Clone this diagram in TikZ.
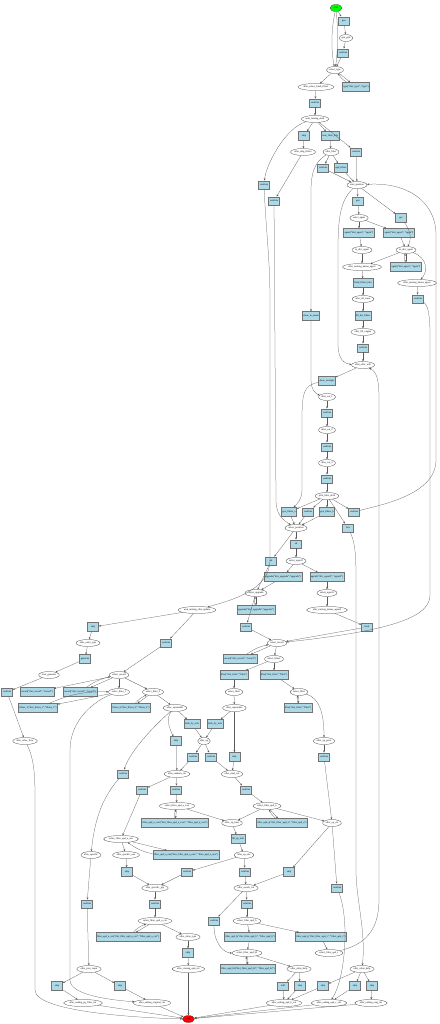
\documentclass[tikz,border=0pt]{standalone}
\usepackage{fontspec}
\setmainfont{Liberation Serif}
\usepackage{tikz}
\usetikzlibrary{arrows.meta,shapes.geometric}
\definecolor{lblue}{HTML}{ADD8E6}
\tikzset{
  st/.style  ={ellipse,draw=black!80,line width=0.25pt,inner xsep=0.3pt,inner ysep=0.2pt,
               minimum height=7pt,minimum width=12pt,font=\fontsize{2.5}{3}\selectfont},
  act/.style ={rectangle,draw=black!55,line width=0.5pt,fill=lblue,inner xsep=1pt,
               minimum height=7.5pt,minimum width=11pt,font=\fontsize{2.5}{3}\selectfont},
  e/.style   ={-{Stealth[length=2.2pt,width=1.8pt]},line width=0.25pt,draw=black!65},
}

\begin{document}
\begin{tikzpicture}[x=1pt,y=-1pt]
  \useasboundingbox (0,0) rectangle (439,1024);
  % top
  \node[st,fill=green] (start) at (336,8) {start};
  \node[act] (genA) at (344,21) {gen};
  \node[st] (genGrid) at (346,38) {gen\_grid};
  \node[act] (cfA) at (343,53) {confirm};
  \node[st] (selType) at (335,70) {select\_type};
  \node[st] (afterSel) at (316,87) {after\_select\_fresh\_filters};
  \node[act] (typeBox) at (356,87) {type("dict\_type", "type")};
  \node[act] (cfB) at (315,103) {confirm};
  \node[st] (waitDeck) at (315,119) {wait\_turning\_deck};
  \node[act] (skipA) at (304,136) {skip};
  \node[act] (resetF) at (330,136) {reset\_filter\_info};
  \node[act] (cfC) at (356,152) {confirm};
  \node[st] (afSkip) at (303,152) {after\_skip\_filters};
  \node[st] (afFil) at (331,152) {after\_filter};
  \node[act] (cfD) at (323,168) {confirm};
  \node[act] (updF) at (341,168) {upd\_filters};
  \node[act] (cfE) at (264,185) {confirm};
  \node[act] (cfF) at (274,201) {confirm};
  \node[st] (startPos) at (357,185) {start\_position};
  \node[act] (genB) at (358,201) {gen};
  \node[act] (getA) at (401,218) {get};
  \node[st] (selAgent) at (359,218) {select\_agent};
  \node[act] (agentA) at (359,233) {agent("dict\_agent", "agent")};
  \node[act] (agentB) at (399,233) {agent("dict\_agent", "agent")};
  \node[st] (toAgentA) at (362,250) {to\_dict\_agent};
  \node[st] (toAgentB) at (406,250) {to\_dict\_agent};
  \node[st] (afTurn) at (362,267) {after\_turning\_minus\_agent};
  \node[act] (agentC) at (406,267) {agent("dict\_agent", "agent")};
  \node[st] (afTurn2) at (417,283) {after\_turning\_minus\_agent};
  \node[act] (fixedF) at (363,283) {fixed\_filters\_info};
  \node[act] (cfG) at (418,299) {confirm};
  \node[st] (afAll) at (363,299) {after\_all\_cases};
  \node[act] (fillF) at (363,316) {fill\_the\_filters};
  \node[act] (showMode) at (311,316) {show\_in\_mode};
  \node[st] (afFill) at (363,332) {after\_fill\_engine};
  \node[act] (cfH) at (363,348) {confirm};
  \node[st] (afAfter) at (363,365) {after\_after\_info};
  \node[act] (showEx) at (327,381) {show\_example};
  \node[st] (afCut1) at (327,397) {after\_cut\_1};
  \node[act] (cf1) at (327,413) {confirm};
  \node[st] (afCut2) at (327,430) {after\_cut\_2};
  \node[act] (cf2) at (327,447) {confirm};
  \node[st] (afCut3) at (327,463) {after\_cut\_3};
  \node[act] (cf3) at (327,479) {confirm};
  \node[st] (pickDeck) at (327,496) {pick\_filter\_deck};
  \node[act] (gfA) at (289,512) {gen\_filters\_a};
  \node[act] (cfI) at (308,512) {confirm};
  \node[act] (gfB) at (327,512) {gen\_filters\_b};
  \node[act] (cfJ) at (354,512) {confirm};
  \node[st] (selPos) at (296,528) {select\_position};
  \node[act] (freeA) at (348,528) {free};
  \node[act] (okA) at (296,544) {ok};
  \node[act] (okB) at (271,561) {ok};
  \node[st] (selAg2) at (296,561) {select\_agent2};
  \node[act] (ag2A) at (283,577) {upgrade("dict\_upgrade","upgrade")};
  \node[act] (ag2B) at (327,577) {agent2("dict\_agent2", "agent2")};
  \node[st] (selAg2b) at (256,593) {select\_upgrade};
  \node[st] (selAg3) at (327,593) {select\_agent3};
  \node[act] (ag2C) at (256,610) {upgrade("dict\_upgrade","upgrade")};
  \node[st] (afTurn3) at (327,610) {after\_turning\_minus\_agent2};
  \node[act] (cfK) at (246,627) {confirm};
  \node[act] (backA) at (367,627) {back};
  \node[st] (selRec) at (277,643) {select\_record};
  \node[act] (recA) at (240,659) {record("dict\_record", "record")};
  \node[st] (selFil) at (274,659) {select\_filters};
  \node[act] (filA) at (234,675) {filter("dict\_filter","filter")};
  \node[act] (filB) at (274,675) {filter("dict\_filter","filter")};
  \node[st] (selFA) at (234,692) {select\_filter};
  \node[st] (selFB) at (299,692) {select\_filter};
  \node[st] (afRepA) at (234.4,708) {after\_repeatable};
  \node[act] (filBox) at (298,708) {filter("dict\_filter","filter")};
  % left part
  \node[st] (wtChar) at (197,610) {wait\_turning\_char\_update};
  \node[act] (skipB) at (93,627) {skip};
  \node[st] (afEnter) at (88,643) {after\_enter\_type};
  \node[act] (cfL) at (166,643) {confirm};
  \node[act] (genC) at (85,659) {generate};
  \node[st] (startGen) at (49,675) {start\_generate};
  \node[st] (selRec2) at (119,675) {select\_record};
  \node[act] (cfM) at (7,692) {confirm};
  \node[act] (recB) at (37,692) {record("dict\_record", "record")};
  \node[act] (recC) at (80,692) {record("dict\_record", "record")};
  \node[st] (selF1) at (119,692) {select\_filter\_1};
  \node[st] (selF1b) at (153,692) {select\_filter\_2};
  \node[act] (f1A) at (38,708) {filters\_1("dict\_filters\_1","filters\_1")};
  \node[act] (f1B) at (131,708) {filters\_2("dict\_filters\_2","filters\_2")};
  \node[st] (afRep1) at (175,708) {after\_repeatable};
  \node[act] (fetchA) at (192,724) {fetch\_by\_info};
  \node[act] (fetchB) at (215,724) {fetch\_by\_info};
  \node[st] (afOther) at (25,741) {after\_other\_flow};
  \node[act] (skipC) at (176,741) {skip};
  \node[st] (afOp1) at (204,741) {after\_op};
  \node[act] (cfN) at (193,757) {confirm};
  \node[act] (cfO) at (211,757) {confirm};
  \node[act] (skipD) at (234.4,757) {skip};
  \node[st] (afOpP) at (324,741) {after\_op\_price};
  \node[act] (cfS) at (324,757) {confirm};
  \node[act] (cfP) at (123,774) {confirm};
  \node[st] (afRand) at (177,774) {after\_random\_cnt};
  \node[st] (afRand2) at (232,774) {after\_rand\_cnt};
  \node[act] (cfQ) at (142,790) {confirm};
  \node[act] (cfR) at (176,790) {confirm};
  \node[act] (cfT) at (246,790) {confirm};
  \node[st] (selFUAC) at (177,806) {select\_filter\_upd\_a\_cost};
  \node[st] (selFUA) at (267,806) {select\_filter\_upd\_a};
  \node[act] (fuacBox) at (175,823) {filter\_upd\_a\_cost("dict\_filter\_upd\_a\_cost", "filter\_upd\_a\_cost")};
  \node[st] (afOpB) at (232,823) {after\_op\_base};
  \node[act] (fuaBox) at (282,823) {filter\_upd\_a("dict\_filter\_upd\_a", "filter\_upd\_a")};
  \node[st] (afOpC) at (332,823) {after\_op\_cnt};
  \node[st] (selFUA1) at (121,839) {select\_filter\_upd\_a\_one};
  \node[act] (fillOp) at (238,839) {fill\_op\_info};
  % bottom part
  \node[st] (afSpec1) at (91,855) {after\_specific};
  \node[st] (afSpec2) at (126,855) {after\_specific\_one};
  \node[act] (fua1Box) at (186,855) {filter\_upd\_a\_one("dict\_filter\_upd\_a\_one", "filter\_upd\_a\_one")};
  \node[st] (afOp1b) at (244,855) {after\_op\_one};
  \node[act] (skipE) at (127,872) {skip};
  \node[act] (cfU) at (187,872) {confirm};
  \node[act] (cfY) at (245,872) {confirm};
  \node[act] (skipG) at (289,872) {skip};
  \node[st] (afSpecGrp) at (155,888) {after\_specific\_grp};
  \node[st] (afSearch) at (246,888) {after\_search\_cnt};
  \node[act] (cfZ) at (337,888) {confirm};
  \node[act] (cfV) at (87,904) {confirm};
  \node[act] (cfW) at (155,904) {confirm};
  \node[act] (cfAA) at (247,904) {confirm};
  \node[st] (selFUAcnt) at (155,921) {select\_filter\_upd\_a\_cnt};
  \node[act] (cfX) at (214,921) {confirm};
  \node[st] (selFUB) at (247,921) {select\_filter\_upd\_b};
  \node[act] (fuacntBox) at (128,937) {filter\_upd\_a\_cnt("dict\_filter\_upd\_a\_cnt", "filter\_upd\_a\_cnt")};
  \node[st] (afOtherType) at (188,937) {after\_other\_type};
  \node[act] (fubA) at (250,937) {filter\_upd\_b("dict\_filter\_upd\_b", "filter\_upd\_b")};
  \node[act] (fubB) at (321,937) {filter\_upd\_c("dict\_filter\_upd\_c", "filter\_upd\_c")};
  \node[act] (skipF) at (188,953) {skip};
  \node[st] (selFUBii) at (247,953) {select\_filter\_upd\_b2};
  \node[st] (selFUC) at (329,953) {select\_filter\_upd\_c};
  \node[st] (afPrev) at (89,969) {after\_prev\_input};
  \node[st] (afClosing) at (188.4,969) {after\_closing\_upd\_cnt};
  \node[act] (fubC) at (248,969) {filter\_upd\_b2("dict\_filter\_upd\_b2", "filter\_upd\_b2")};
  \node[st] (afHelp1) at (299,969) {after\_other\_help};
  \node[st] (afHelp2) at (362,969) {after\_other\_help};
  \node[act] (bxL1) at (57,986) {skip};
  \node[act] (bxL2) at (120,986) {skip};
  \node[act] (bx1) at (283,986) {add};
  \node[act] (bx2) at (300,986) {skip};
  \node[act] (bx3) at (323,986) {skip};
  \node[act] (bx4) at (355,986) {skip};
  \node[act] (bx5) at (372,986) {skip};
  \node[st] (afEnd1) at (83,1003) {after\_ending\_pg\_filter\_cnt};
  \node[st] (afEnd2) at (152,1003) {after\_ending\_original\_cnt};
  \node[st] (afE1) at (284,1003) {after\_ending\_upd\_b\_cnt};
  \node[st] (afE2) at (329,1003) {after\_ending\_upd\_c\_cnt};
  \node[st] (afE3) at (371,1003) {after\_ending\_orig\_cnt};
  \node[st,fill=red] (fin) at (188.4,1019) {end};

  % straight edges
  \foreach \a/\b in {start/genA,genA/genGrid,genGrid/cfA,cfA/selType,selType/afterSel,
      selType/typeBox,afterSel/cfB,cfB/waitDeck,waitDeck/skipA,waitDeck/resetF,waitDeck/cfC,
      skipA/afSkip,resetF/afFil,afSkip/cfF,afFil/cfD,afFil/updF,cfC/startPos,cfD/startPos,
      updF/startPos,startPos/genB,genB/selAgent,startPos/getA,selAgent/agentA,selAgent/agentB,
      agentA/toAgentA,agentB/toAgentB,toAgentA/afTurn,toAgentB/afTurn,toAgentB/agentC,
      afTurn/fixedF,fixedF/afAll,afAll/fillF,fillF/afFill,afFill/cfH,cfH/afAfter,afTurn2/cfG,
      afAfter/showEx,afCut1/cf1,cf1/afCut2,afCut2/cf2,cf2/afCut3,afCut3/cf3,cf3/pickDeck,
      pickDeck/gfA,pickDeck/cfI,pickDeck/gfB,pickDeck/cfJ,pickDeck/freeA,gfA/selPos,cfI/selPos,
      gfB/selPos,selPos/okA,okA/selAg2,selPos/okB,okB/selAg2b,selAg2/ag2A,selAg2/ag2B,
      ag2A/selAg2b,ag2B/selAg3,selAg3/afTurn3,afTurn3/backA,backA/selRec,selAg2b/cfK,
      selAg2b/ag2C,cfK/selRec,selRec/recA,selRec/selFil,selFil/filA,selFil/filB,filA/selFA,
      filB/selFB,selFA/afRepA,selFB/filBox,afRepA/skipD,afRepA/fetchB,skipD/afRand2}
    \draw[e] (\a) -- (\b);
  \foreach \a/\b in {wtChar/skipB,wtChar/cfL,skipB/afEnter,afEnter/genC,genC/startGen,
      cfL/selRec2,startGen/cfM,cfM/afOther,selRec2/recB,selRec2/recC,selRec2/selF1,
      selRec2/selF1b,selF1/f1A,selF1b/f1B,selF1b/afRep1,afRep1/fetchA,fetchA/afOp1,
      fetchB/afOp1,afOp1/cfN,afOp1/cfO,skipC/afRand,cfN/afRand,cfO/afRand2,afRand/cfQ,
      afRand/cfR,cfR/selFUAC,selFUAC/fuacBox,cfQ/selFUA1,selFUA1/fua1Box,selFUA1/afSpec2,
      afSpec1/cfV,afSpec2/skipE,skipE/afSpecGrp,cfU/afSpecGrp,afSpecGrp/cfW,cfW/selFUAcnt,
      selFUAcnt/fuacntBox,selFUAcnt/afOtherType,afOtherType/skipF,skipF/afClosing,
      afClosing/fin,afPrev/bxL1,afPrev/bxL2,bxL1/afEnd1,bxL2/afEnd2,afEnd1/fin,afEnd2/fin,
      afOpP/cfS,cfS/afOpC,afRand2/cfT,cfT/selFUA,selFUA/afOpB,selFUA/fuaBox,selFUA/afOpC,
      afOpB/fillOp,fillOp/afOp1b,afOp1b/cfU,afOp1b/cfY,cfY/afSearch,skipG/afSearch,
      afOpC/cfZ,afOpC/skipG,afSearch/cfAA,cfAA/selFUB,afSearch/cfX,selFUB/fubA,selFUB/fubB,
      fubA/selFUBii,fubB/selFUC,selFUBii/fubC,selFUBii/afHelp1,afHelp1/bx1,afHelp1/bx2,
      afHelp2/bx3,afHelp2/bx4,afHelp2/bx5,bx1/afE1,bx2/afE1,bx3/afE1,bx4/afE2,bx5/afE3,
      afE1/fin,afE2/fin,afE3/fin,cfV/afPrev,selFUAC/afOpB}
    \draw[e] (\a) -- (\b);

  % return edges
  \foreach \a/\b in {typeBox/selType,agentC/toAgentB,ag2C/selAg2b,recA/selRec,f1A/selF1,
      f1B/selF1b,filBox/selFB,fuacBox/selFUAC,fuaBox/selFUA,fua1Box/selFUA1,
      fuacntBox/selFUAcnt,fubC/selFUBii,recC/selRec2}
    \draw[e] (\a) to[bend left=12] (\b);

  % long curves
  \draw[e] (start) .. controls (331,30) and (331,50) .. (selType);
  \draw[e] (start) .. controls (338,30) and (338,50) .. (selType);
  \draw[e] (waitDeck) .. controls (285,128) and (266,165) .. (cfE);
  \draw[e] (afFil) .. controls (314,162) and (311,175) .. (311,190) -- (showMode);
  \draw[e] (cfE) .. controls (266,230) and (270,260) .. (270,300) -- (270,560)
    .. controls (270,590) and (232,600) .. (wtChar);
  \draw[e] (cfF) -- (276,500) .. controls (276,515) and (283,520) .. (selPos);
  \draw[e] (getA) .. controls (410,230) and (412,238) .. (toAgentB);
  \draw[e] (toAgentB) .. controls (428,258) and (428,272) .. (afTurn2);
  \draw[e] (cfJ) .. controls (380,505) and (436,495) .. (436,460) -- (436,235)
    .. controls (436,200) and (405,182) .. (startPos);
  \draw[e] (cfG) .. controls (428,305) and (430,315) .. (430,335) -- (430,595)
    .. controls (430,615) and (400,630) .. (selRec);
  \draw[e] (startPos) .. controls (340,200) and (338,220) .. (338,250) -- (338,345)
    .. controls (338,358) and (344,364) .. (afAfter);
  \draw[e] (showMode) -- (311,380) .. controls (311,390) and (316,394) .. (afCut1);
  \draw[e] (showEx) .. controls (303,385) and (302,395) .. (302,420) -- (302,490)
    .. controls (302,500) and (296,505) .. (gfA);
  \draw[e] (freeA) .. controls (354,540) and (356,550) .. (356,575) -- (356,870)
    .. controls (356,900) and (366,930) .. (afHelp2);
  \draw[e] (selFUC) .. controls (365,945) and (379,930) .. (379,900) -- (379,400)
    .. controls (379,380) and (377,372) .. (afAfter);
  \draw[e] (selFB) .. controls (320,698) and (324,715) .. (afOpP);
  \draw[e] (afRep1) .. controls (165,718) and (170,730) .. (skipC);
  \draw[e] (afRep1) .. controls (160,720) and (130,750) .. (cfP);
  \draw[e] (cfP) .. controls (100,800) and (94,825) .. (afSpec1);
  \draw[e] (afOther) .. controls (35,760) and (35,780) .. (35,800) -- (35,990)
    .. controls (35,1012) and (140,1018) .. (fin);
  \draw[e] (selF1) .. controls (95,700) and (70,720) .. (70,750) -- (70,980)
    .. controls (70,995) and (110,1000) .. (afEnd2);
  \draw[e] (cfZ) .. controls (350,920) and (345,980) .. (afE2);
  \draw[e] (cfX) .. controls (214,945) and (225,953) .. (selFUBii);
\end{tikzpicture}
\end{document}
